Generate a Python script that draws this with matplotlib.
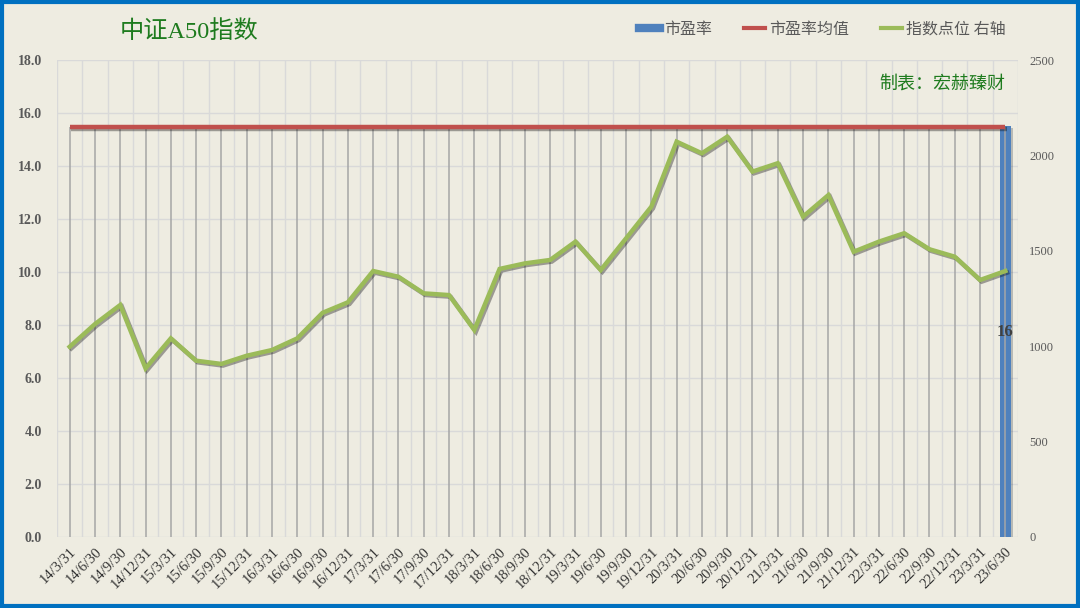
import matplotlib
matplotlib.use("Agg")
import matplotlib.pyplot as plt
import matplotlib.patheffects as pe
from matplotlib.lines import Line2D
from matplotlib.patches import Rectangle
import numpy as np

plt.rcParams['font.family'] = ['Liberation Serif', 'Noto Sans CJK SC', 'DejaVu Sans']

dates = ["14/3/31", "14/6/30", "14/9/30", "14/12/31",
         "15/3/31", "15/6/30", "15/9/30", "15/12/31",
         "16/3/31", "16/6/30", "16/9/30", "16/12/31",
         "17/3/31", "17/6/30", "17/9/30", "17/12/31",
         "18/3/31", "18/6/30", "18/9/30", "18/12/31",
         "19/3/31", "19/6/30", "19/9/30", "19/12/31",
         "20/3/31", "20/6/30", "20/9/30", "20/12/31",
         "21/3/31", "21/6/30", "21/9/30", "21/12/31",
         "22/3/31", "22/6/30", "22/9/30", "22/12/31",
         "23/3/31", "23/6/30"]

pe_ratio = [np.nan] * 37 + [15.5]
pe_mean = [15.46] * 38
index_points = [997, 1116, 1216, 884, 1041, 924, 907, 950,
                980, 1041, 1175, 1230, 1394, 1364, 1277, 1268,
                1085, 1405, 1434, 1452, 1548, 1399, 1565, 1731,
                2072, 2011, 2098, 1915, 1959, 1679, 1792, 1495,
                1548, 1592, 1508, 1469, 1347, 1394]

bg = '#EEECE1'
c_bar = '#4F81BD'
c_red = '#C0504D'
c_green = '#9BBB59'
c_text = '#595959'

fig = plt.figure(figsize=(10.8, 6.08), dpi=100, facecolor=bg)
ax = fig.add_axes([0.0528, 0.1168, 0.8898, 0.7845], facecolor=bg)
ax2 = ax.twinx()

x = np.arange(len(dates))

# grid
ax.set_axisbelow(True)
ax.set_ylim(0, 18)
ax.set_yticks(np.arange(0, 18.1, 2))
ax.set_yticklabels([f"{v:.1f}" for v in np.arange(0, 18.1, 2)],
                   fontsize=10, fontweight='bold', color=c_text)
ax.set_xlim(-0.5, len(dates) - 0.5)
ax.set_xticks(x)
ax.set_xticks(np.arange(-0.5, len(dates), 1), minor=True)
ax.grid(axis='y', which='major', color='#D9D9D9', lw=1)
ax.grid(axis='x', which='minor', color='#D9D9D9', lw=1)
ax.tick_params(axis='both', which='both', length=0)
ax.tick_params(axis='y', pad=11)
ax.set_xticklabels(dates, rotation=45, ha='right', rotation_mode='anchor',
                   fontsize=10.5, color='#333333')
ax.tick_params(axis='x', pad=6)

# drop lines
ax.vlines(x, 0, pe_mean, color='#A6A6A6', lw=1.1, zorder=2)

# bars
shadow = [pe.SimplePatchShadow(offset=(1.5, -1.5), alpha=0.25), pe.Normal()]
bars = ax.bar(x, pe_ratio, width=0.44, color=c_bar, zorder=1.5,
              path_effects=shadow)
for xi, v in zip(x, pe_ratio):
    if not np.isnan(v):
        ax.text(xi, v / 2, f"{v:.0f}", ha='center', va='center',
                fontsize=12, fontweight='bold', color='#404040', zorder=5)

# mean line
lshadow = [pe.SimpleLineShadow(offset=(1.2, -1.2), alpha=0.35), pe.Normal()]
ax.plot(x, pe_mean, color=c_red, lw=3.2, zorder=3, path_effects=lshadow,
        solid_capstyle='butt')

# right axis line
ax2.set_ylim(0, 2500)
ax2.set_yticks(np.arange(0, 2501, 500))
ax2.set_yticklabels([str(v) for v in range(0, 2501, 500)],
                    fontsize=9, color=c_text)
ax2.tick_params(axis='y', length=0, pad=8)
ax2.plot(x, index_points, color=c_green, lw=3.2, zorder=4,
         path_effects=lshadow, solid_joinstyle='miter')

for a in (ax, ax2):
    for s in a.spines.values():
        s.set_visible(False)

# title & note
fig.text(0.111, 0.948, "中证A50指数", fontsize=17.5, color='#1E7B1E',
         ha='left', va='center')
fig.text(0.931, 0.862, "制表：宏赫臻财", fontsize=13, color='#1E7B1E',
         ha='right', va='center', family=['Noto Sans CJK SC', 'DejaVu Sans'])

handles = [Line2D([0], [0], color=c_bar, lw=6),
           Line2D([0], [0], color=c_red, lw=3),
           Line2D([0], [0], color=c_green, lw=3)]
labels = ["市盈率", "市盈率均值", "指数点位 右轴"]
fig.legend(handles, labels, loc='center right', bbox_to_anchor=(0.944, 0.952),
           ncol=3, frameon=False, handlelength=1.3,
           handletextpad=0.25, columnspacing=2.0, labelcolor=c_text,
           prop={'family': ['Noto Sans CJK SC', 'DejaVu Sans'], 'size': 11.5})

# figure border
fig.patches.append(Rectangle((0.0015, 0.0025), 0.997, 0.995,
                             transform=fig.transFigure, fill=False,
                             edgecolor='#0070C0', lw=3))

fig.savefig("out.png", dpi=100, facecolor=bg)
